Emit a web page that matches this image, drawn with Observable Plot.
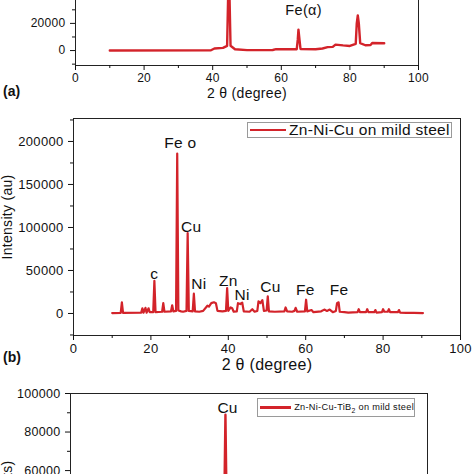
<!DOCTYPE html>
<html>
<head>
<meta charset="utf-8">
<script src="https://cdn.jsdelivr.net/npm/d3@7"></script>
<script src="https://cdn.jsdelivr.net/npm/@observablehq/plot@0.6"></script>
<style>
  html, body { margin: 0; padding: 0; background: #fff; }
  #page { position: relative; width: 474px; height: 474px; overflow: hidden; background: #fff;
          font-family: "Liberation Sans", Arial, Helvetica, sans-serif; color: #111; }
  .panel { position: absolute; left: 0; }
  .tag { position: absolute; font-weight: bold; font-size: 14px; line-height: 16px; }
  .legend { position: absolute; box-sizing: border-box; border: 1px solid #9a9a9a; background: #fff;
            display: flex; align-items: center; white-space: nowrap; }
  .legend .swatch { display: inline-block; height: 2.5px; background: #d3232a; }
</style>
</head>
<body>
<div id="page"></div>
<script>
// ---- (a) substrate pattern ----
const thetaA  = [10, 39.5, 40.5, 43, 44.2, 44.5, 44.7, 44.9, 45.2, 46.5, 50, 57.5, 58.5, 64.5, 64.8, 65.0, 65.3, 65.6,
                 70, 72, 73.5, 75, 75.8, 78, 80, 81.7, 82.0, 82.3, 82.6, 83.0, 84.5, 86.0, 86.5, 90];
const countsA = [0, 200, 1500, 2000, 3500, 40000, 68000, 40000, 3500, 1000, 300, 400, 1000, 1000, 8000, 15400, 8000, 1200,
                 1000, 1500, 2500, 2700, 4400, 3800, 3400, 5000, 20000, 25800, 20000, 5500, 3900, 4000, 5600, 5400];
const peakTextA = ["Fe(\u03b1)"];
const peakXA    = [66.5];
const peakYA    = [29500];

// ---- (b) Zn-Ni-Cu coating ----
const thetaB  = [10, 12.2, 12.5, 12.8, 17.5, 17.8, 18.1, 18.6, 18.9, 19.4, 19.7, 20.6, 20.9, 21.2, 22.9, 23.2, 23.5,
                 25.2, 25.5, 25.8, 26.5, 26.8, 27.1, 27.8, 28.3, 29.2, 29.5, 29.8, 30.8, 31.1, 31.4, 32.5, 33.5,
                 34.6, 35.0, 35.6, 36.3, 36.8, 37.2, 38.5, 39.4, 39.7, 40.0, 40.6, 41.0, 41.4, 42.2, 42.5, 43.1,
                 43.6, 44.0, 45.5, 46.2, 46.8, 47.5, 47.8, 48.3, 48.8, 49.2, 49.9, 50.2, 50.5, 52, 54.5, 54.8,
                 55.2, 56.5, 57.1, 57.4, 57.8, 59.8, 60.1, 60.4, 61.5, 62, 64, 64.8, 65.5, 66.2, 67, 67.8, 68.1,
                 68.5, 68.8, 70, 71, 73.4, 73.7, 74.0, 75.6, 75.9, 76.2, 77.7, 78.0, 78.3, 79.7, 80.0, 80.3,
                 81.2, 81.5, 81.8, 83.8, 84.1, 84.4, 86, 88, 90.3];
const countsB = [500, 800, 13000, 800, 1000, 6000, 1000, 6500, 1000, 6000, 1500, 1500, 38000, 1500, 2000, 12000, 2000,
                 2500, 9500, 2500, 3000, 186000, 3500, 2500, 2000, 3000, 93500, 3000, 2500, 23000, 2500, 2000, 3000,
                 9000, 8000, 12000, 13000, 12000, 3000, 2500, 3000, 29500, 3000, 7000, 6000, 2000, 2500, 12000, 11000,
                 12500, 2500, 2000, 5000, 2000, 3000, 14000, 12000, 15500, 3000, 3500, 20000, 2500, 2000, 2500, 7000,
                 2500, 2000, 3000, 6500, 2000, 2500, 16000, 2500, 4000, 1500, 2500, 4500, 3000, 4500, 1500, 3000, 12000,
                 13000, 2000, 1500, 1000, 1500, 5000, 1500, 1500, 5000, 1500, 1500, 4000, 1000, 1500, 5000, 2000,
                 2000, 5000, 1500, 1500, 4000, 1000, 800, 600, 500];
const peakTextB = ["c", "Fe o", "Cu", "Ni", "Zn", "Ni", "Cu", "Fe", "Fe"];
const peakXB    = [20.9, 27.6, 30.4, 32.4, 40.0, 43.6, 50.9, 59.9, 68.6];
const peakYB    = [46200, 197700, 101000, 34500, 37500, 20900, 30600, 27500, 26700];

// ---- (c) Zn-Ni-Cu-TiB2 coating ----
const thetaC  = [10, 26.6, 26.9, 27.2, 35.8, 36.3, 36.8, 38.7, 39.0, 39.3, 42.9, 43.2, 43.4, 43.6, 44.0, 50.2, 50.5,
                 50.8, 73.9, 74.2, 74.5, 82.0, 82.3, 82.6, 90];
const countsC = [1500, 2000, 15000, 2000, 2500, 12000, 2500, 3000, 20000, 3000, 3000, 60000, 89000, 60000, 3000,
                 3000, 30000, 3000, 2000, 18000, 2000, 2000, 9000, 2000, 1500];
const peakTextC = ["Cu"];
const peakXC    = [44.0];
const peakYC    = [92700];

// ---- axis ticks (labelled, unlabelled major, minor) ----
const xTicks      = [0, 20, 40, 60, 80, 100];
const xMinorTicks = [10, 30, 50, 70, 90];
const yTicksA = [0, 20000];
const yPlainA = [40000, 60000];
const yMinorA = [-10000, 10000, 30000, 50000];
const yTicksB = [0, 50000, 100000, 150000, 200000];
const yPlainB = [];
const yMinorB = [-25000, 25000, 75000, 125000, 175000, 225000];
const yTicksC = [60000, 80000, 100000];
const yPlainC = [0, 20000, 40000];
const yMinorC = [-10000, 10000, 30000, 50000, 70000, 90000];

const xTitle = "2 \u03b8 (degree)";
const RED = "#d3232a";
const FONT = "'Liberation Sans', Arial, Helvetica, sans-serif";

function xrdPanel(o) {
  const rows = o.theta.map((t, i) => ({theta: t, counts: o.counts[i]}));
  const labels = o.peakText.map((t, i) => ({text: t, theta: o.peakX[i], counts: o.peakY[i]}));
  const marks = [
    Plot.line(rows, {x: "theta", y: "counts", stroke: RED, strokeWidth: o.lineWidth, clip: true}),
    Plot.frame({stroke: "#222", strokeWidth: 1}),
    Plot.axisX(xTicks, {tickSize: 5, tickPadding: 3, label: null, fontSize: o.tickFont,
                        tickFormat: o.xLabels ? (d => String(d)) : (() => "")}),
    Plot.axisX(xMinorTicks, {tickSize: 3, tickFormat: () => "", label: null}),
    Plot.axisY(o.yTicks, {tickSize: 5, tickPadding: 5, tickFormat: d => String(d), label: null, fontSize: o.tickFont}),
    Plot.axisY(o.yPlain, {tickSize: 5, tickFormat: () => "", label: null}),
    Plot.axisY(o.yMinor, {tickSize: 3, tickFormat: () => "", label: null}),
    Plot.text(labels, {x: "theta", y: "counts", text: "text", fontSize: o.peakFont, fill: "#111"})
  ];
  if (o.xLabels) {
    marks.push(Plot.text([xTitle], {frameAnchor: "bottom", dy: o.xTitleDy, text: d => d, fontSize: o.titleFont,
                                    textAnchor: "middle", lineAnchor: "middle", fill: "#111"}));
  }
  if (o.yTitle) {
    marks.push(Plot.text([o.yTitle], {frameAnchor: "left", dx: o.yTitleDx, dy: o.yTitleDy, rotate: -90,
                                      text: d => d, fontSize: o.yTitleFont, textAnchor: "middle",
                                      lineAnchor: "middle", fill: "#111"}));
  }
  const svg = Plot.plot({
    width: 474, height: o.height,
    marginTop: o.mt, marginBottom: o.mb, marginLeft: o.ml, marginRight: o.mr,
    style: {fontFamily: FONT, fontSize: o.tickFont + "px", color: "#111", background: "transparent",
            overflow: "visible", letterSpacing: "0.3px"},
    x: {domain: [0, 100]},
    y: {domain: o.yDomain},
    marks
  });
  svg.classList.add("panel");
  svg.style.top = o.top + "px";
  return svg;
}

const page = document.getElementById("page");

page.appendChild(xrdPanel({
  theta: thetaA, counts: countsA, peakText: peakTextA, peakX: peakXA, peakY: peakYA,
  yTicks: yTicksA, yPlain: yPlainA, yMinor: yMinorA, yDomain: [-11000, 70000], xLabels: true,
  top: -60, height: 160, mt: 15, mb: 35, ml: 75, mr: 56,
  lineWidth: 2.4, tickFont: 12, peakFont: 14.5, titleFont: 14, xTitleDy: 28
}));

page.appendChild(xrdPanel({
  theta: thetaB, counts: countsB, peakText: peakTextB, peakX: peakXB, peakY: peakYB,
  yTicks: yTicksB, yPlain: yPlainB, yMinor: yMinorB, yDomain: [-25600, 226700], xLabels: true,
  top: 100, height: 280, mt: 18, mb: 45, ml: 73, mr: 14,
  lineWidth: 2.2, tickFont: 13, peakFont: 15.5, titleFont: 16, xTitleDy: 29,
  yTitle: "Intensity (au)", yTitleDx: -66, yTitleDy: -10, yTitleFont: 14
}));

// lower panel continues below the page edge; its x axis labels fall outside the view
page.appendChild(xrdPanel({
  theta: thetaC, counts: countsC, peakText: peakTextC, peakX: peakXC, peakY: peakYC,
  yTicks: yTicksC, yPlain: yPlainC, yMinor: yMinorC, yDomain: [-10000, 100000], xLabels: false,
  top: 380, height: 235, mt: 13, mb: 10, ml: 70, mr: 47,
  lineWidth: 2.4, tickFont: 12.5, peakFont: 15.5, titleFont: 16, xTitleDy: 29,
  yTitle: "Intensity (counts)", yTitleDx: -63, yTitleDy: 17, yTitleFont: 14
}));

// panel tags
[["(a)", 83], ["(b)", 349]].forEach(([t, y]) => {
  const d = document.createElement("div");
  d.className = "tag";
  d.textContent = t;
  d.style.left = "3px";
  d.style.top = y + "px";
  page.appendChild(d);
});

// legends
function legend(html, left, top, w, h, swatchW, fontSize) {
  const box = document.createElement("div");
  box.className = "legend";
  Object.assign(box.style, {left: left + "px", top: top + "px", width: w + "px", height: h + "px"});
  const sw = document.createElement("span");
  sw.className = "swatch";
  Object.assign(sw.style, {width: swatchW + "px", marginLeft: "2px", marginRight: "3px"});
  const tx = document.createElement("span");
  tx.innerHTML = html;
  tx.style.fontSize = fontSize + "px";
  tx.style.letterSpacing = "0.3px";
  box.appendChild(sw);
  box.appendChild(tx);
  page.appendChild(box);
}
legend("Zn-Ni-Cu on mild steel", 247, 122, 205, 16, 36, 15.5);
legend("Zn-Ni-Cu-TiB<sub style='font-size:0.75em'>2</sub> on mild steel", 257, 398, 158, 19, 33, 9.2);
</script>
</body>
</html>
